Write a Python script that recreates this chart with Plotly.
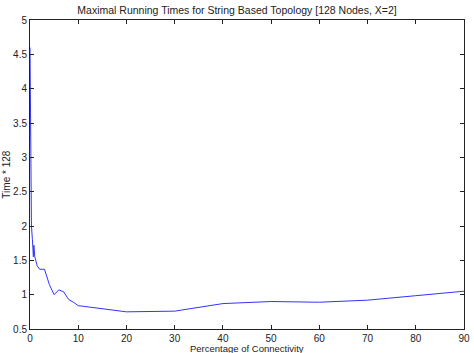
import plotly.graph_objects as go

connectivity = [0, 0.3, 0.5, 0.7, 0.8, 1.0, 1.5, 2, 3, 4, 5, 6, 7, 8, 9, 10, 20, 30, 40, 50, 60, 70, 80, 90]
time_128 = [4.6, 2.0, 1.8, 1.55, 1.72, 1.55, 1.42, 1.37, 1.37, 1.15, 1.0, 1.07, 1.04, 0.93, 0.89, 0.84, 0.75, 0.76, 0.87, 0.90, 0.89, 0.92, 0.985, 1.05]

x_ticks = [0, 10, 20, 30, 40, 50, 60, 70, 80, 90]
y_ticks = [0.5, 1, 1.5, 2, 2.5, 3, 3.5, 4, 4.5, 5]

FONT = "Liberation Sans, Arial"
axis_common = dict(showline=True, linecolor="#222222", linewidth=1, mirror="ticks",
                   ticks="inside", ticklen=4, tickcolor="#222222", showgrid=False,
                   zeroline=False, automargin=False,
                   tickfont=dict(family=FONT, size=10, color="#222222"))

fig = go.Figure()
fig.add_trace(go.Scatter(x=connectivity, y=time_128, mode="lines",
                         line=dict(color="#3333ff", width=1)))

fig.update_layout(
    width=474, height=353,
    margin=dict(l=30, r=10, t=20, b=24),
    paper_bgcolor="white", plot_bgcolor="white",
    showlegend=False,
    title=dict(text="Maximal Running Times for String Based Topology [128 Nodes, X=2]",
               x=0.5, xanchor="center", y=0.972, yanchor="middle",
               font=dict(family=FONT, size=10.5, color="#222222")),
    xaxis=dict(range=[0, 90], tickvals=x_ticks, **axis_common),
    yaxis=dict(range=[0.5, 5], tickvals=y_ticks, **axis_common),
    annotations=[
        dict(text="Percentage of Connectivity", xref="paper", yref="paper",
             x=0.5, y=-0.062, xanchor="center", yanchor="middle", showarrow=False,
             font=dict(family=FONT, size=9.5, color="#222222")),
        dict(text="Time * 128", xref="paper", yref="paper", textangle=-90,
             x=-0.055, y=0.5, xanchor="center", yanchor="middle", showarrow=False,
             font=dict(family=FONT, size=10, color="#222222")),
    ],
)

fig.write_html("out.html")
